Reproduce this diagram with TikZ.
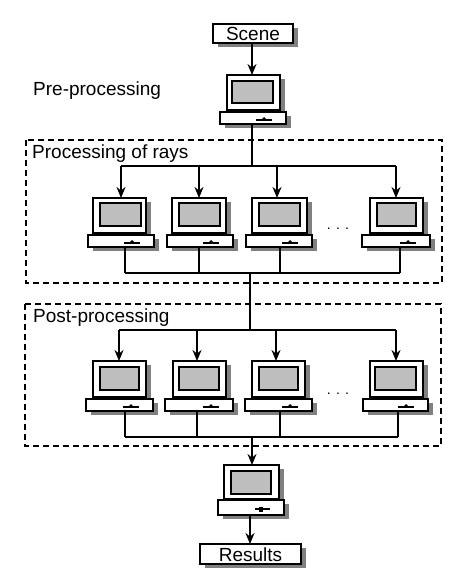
\documentclass[tikz,border=0pt]{standalone}
\usepackage{fontspec}
\setmainfont{Liberation Sans}
\usetikzlibrary{arrows.meta}
\definecolor{shadowgray}{HTML}{808080}
\definecolor{screengray}{HTML}{BEBEBE}
\tikzset{
  box/.style={draw=black,line width=1.5pt,fill=white,inner sep=0pt,outer sep=0pt},
  shadebox/.style={fill=shadowgray,draw=none},
  dashbox/.style={draw=black,line width=1.3pt,dash pattern=on 6pt off 4pt},
  bus/.style={draw=black,line width=1.4pt},
  feed/.style={draw=black,line width=1.4pt,-{Stealth[length=11pt,width=9pt,inset=3.5pt]}},
  lbl/.style={anchor=base west,inner sep=0pt,font=\fontsize{19}{22}\selectfont,text=black},
  boxlbl/.style={font=\fontsize{19}{22}\selectfont,text=black,inner sep=0pt}
}
% name, x1, x2, y1, y2 : a framed box with a drop shadow
\newcommand{\shadowed}[5]{%
  \fill[shadebox] ({#2+5},{#4+4}) rectangle ({#3+5},{#5+4});
  \node[box,minimum width={(#3-#2)*1pt},minimum height={(#5-#4)*1pt}] (#1) at ({(#2+#3)/2},{(#4+#5)/2}) {};
}
% name, monitor x1,x2,y1,y2, screen x1,x2,y1,y2
\newcommand{\monitorunit}[9]{%
  \shadowed{#1}{#2}{#3}{#4}{#5}
  \draw[line width=1.5pt,fill=screengray] (#6,#8) rectangle (#7,#9);
}
% name, base x1,x2,y1,y2 : base with its drive slot
\newcommand{\baseunit}[5]{%
  \shadowed{#1}{#2}{#3}{#4}{#5}
  \draw[line width=1.4pt] ({#3-30},{#5-4}) -- ({#3-14},{#5-4});
  \fill ({#3-25},{#5-4}) -- ({#3-22},{#5-7}) -- ({#3-19},{#5-4}) -- cycle;
}
\begin{document}
\begin{tikzpicture}[x=1pt,y=-1pt]
\useasboundingbox (0,0) rectangle (474,588);
% dashed frames
\draw[dashbox] (26,140) rectangle (442,283);
\draw[dashbox] (25,304) rectangle (441,446);
% texts
\node[lbl] (tpre) at (33,96) {Pre-processing};
\node[lbl] (tray) at (32,158) {Processing of rays};
\node[lbl] (tpost) at (33,322) {Post-processing};
% scene box and results box
\shadowed{scene}{213}{293}{24}{43}
\node[boxlbl,yshift=-0.5pt] at (scene) {Scene};
\shadowed{results}{200}{301}{544}{564}
\node[boxlbl,yshift=-0.5pt] at (results) {Results};
% top computer
\monitorunit{m0}{227}{280}{75}{110}{232}{273}{81}{103}
\baseunit{b0}{220}{286}{112}{124}
% row 1
\monitorunit{ma}{93}{146}{198}{233}{100}{141}{203}{226}
\baseunit{ba}{88}{154}{235}{247}
\monitorunit{mb}{172}{226}{198}{233}{179}{220}{203}{226}
\baseunit{bb}{167}{233}{235}{247}
\monitorunit{mc}{252}{307}{198}{233}{259}{300}{203}{226}
\baseunit{bc}{246}{312}{235}{247}
\monitorunit{md}{370}{423}{198}{233}{377}{416}{203}{226}
\baseunit{bd}{362}{430}{235}{247}
\node[inner sep=0pt,anchor=base,font=\fontsize{14}{16}\selectfont] (dots1) at (338,229.5) {. . .};
% row 2
\monitorunit{me}{93}{146}{361}{397}{100}{139}{367}{390}
\baseunit{be}{86}{153}{399}{411}
\monitorunit{mf}{173}{226}{361}{397}{179}{219}{367}{390}
\baseunit{bf}{165}{233}{399}{411}
\monitorunit{mg}{252}{305}{361}{397}{259}{298}{367}{390}
\baseunit{bg}{245}{312}{399}{411}
\monitorunit{mh}{370}{423}{361}{397}{375}{416}{367}{390}
\baseunit{bh}{363}{428}{399}{411}
\node[inner sep=0pt,anchor=base,font=\fontsize{14}{16}\selectfont] (dots2) at (338,394.5) {. . .};
% bottom computer
\monitorunit{mz}{224}{279}{465}{499}{231}{271}{471}{494}
\shadowed{bz}{218}{284}{500}{515}
\draw[line width=1.4pt] (255,509) -- (270,509);
\fill (259,506.5) rectangle (263,511.5);
% bus coordinates
\coordinate (s1) at (252,166);
\coordinate (t1a) at (121,166); \coordinate (t1b) at (199,166);
\coordinate (t1c) at (277,166); \coordinate (t1d) at (396,166);
\coordinate (u1a) at (125,273); \coordinate (u1b) at (199,273);
\coordinate (u1c) at (280,273); \coordinate (u1d) at (400,273);
\coordinate (j1) at (250,273); \coordinate (s2) at (250,330);
\coordinate (t2a) at (119,330); \coordinate (t2b) at (197,330);
\coordinate (t2c) at (276,330); \coordinate (t2d) at (396,330);
\coordinate (u2a) at (125,437); \coordinate (u2b) at (197,437);
\coordinate (u2c) at (280,437); \coordinate (u2d) at (398,437);
\coordinate (j2) at (252,437);
% connectors
\draw[feed] (scene.south -| 252,0) -- (m0.north -| 252,0);
\draw[bus] (b0.south -| s1) -- (s1);
\draw[bus] (t1a) -- (t1d);
\foreach \c/\m in {t1a/ma,t1b/mb,t1c/mc,t1d/md} \draw[feed] (\c) -- (\c |- \m.north);
\draw[bus] (u1a) -- (u1d);
\foreach \c/\b in {u1a/ba,u1b/bb,u1c/bc,u1d/bd} \draw[bus] (\c |- \b.south) -- (\c);
\draw[bus] (j1) -- (s2);
\draw[bus] (t2a) -- (t2d);
\foreach \c/\m in {t2a/me,t2b/mf,t2c/mg,t2d/mh} \draw[feed] (\c) -- (\c |- \m.north);
\draw[bus] (u2a) -- (u2d);
\foreach \c/\b in {u2a/be,u2b/bf,u2c/bg,u2d/bh} \draw[bus] (\c |- \b.south) -- (\c);
\draw[feed] (j2) -- (j2 |- mz.north);
\draw[feed] (bz.south -| 250,0) -- (results.north -| 250,0);
\end{tikzpicture}
\end{document}
